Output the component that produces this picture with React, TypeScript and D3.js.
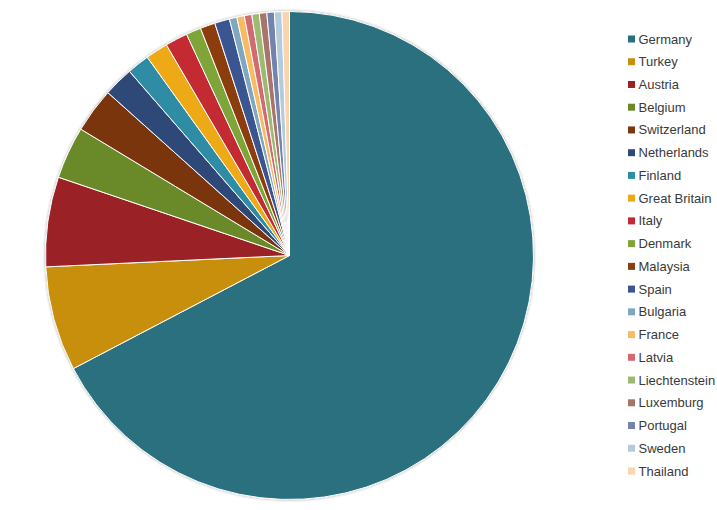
import React from "react";
import * as d3 from "d3";

const categories = [
  "Germany", "Turkey", "Austria", "Belgium", "Switzerland", "Netherlands",
  "Finland", "Great Britain", "Italy", "Denmark", "Malaysia", "Spain",
  "Bulgaria", "France", "Latvia", "Liechtenstein", "Luxemburg", "Portugal",
  "Sweden", "Thailand",
];
const values = [136, 14, 12, 7, 6, 4, 3, 3, 3, 2, 2, 2, 1, 1, 1, 1, 1, 1, 1, 1];
const colors = [
  "#2A6F7F", "#C88F0A", "#9A2226", "#6A8A2A", "#7A3511", "#2F4A78",
  "#2E8DA4", "#EDAA17", "#C42A33", "#7FA539", "#8B3E0F", "#3B5590",
  "#7FA8BE", "#F7BC63", "#D36A72", "#9DBB70", "#A7756B", "#7283AD",
  "#B3CBDA", "#FAD4AE",
];

export default function App() {
  const W = 717, H = 510;
  const cx = 289.5, cy = 255.5, r = 244;
  const data = categories.map((c, i) => ({ name: c, value: values[i], color: colors[i] }));
  const pie = d3.pie<any>().value((d) => d.value).sort(null);
  const arcs = pie(data);
  const arc = d3.arc<any>().innerRadius(0).outerRadius(r);
  const legendY = d3.scalePoint<string>().domain(categories).range([39, 471]);

  return (
    <svg width={W} height={H} style={{ position: "absolute", left: 0, top: 0, background: "#fff" }}>
      <defs>
        <filter id="sh" x="-10%" y="-10%" width="120%" height="120%">
          <feGaussianBlur in="SourceAlpha" stdDeviation="1.5" />
          <feOffset dx="0" dy="0" result="b" />
          <feComponentTransfer><feFuncA type="linear" slope="0.35" /></feComponentTransfer>
          <feMerge><feMergeNode /><feMergeNode in="SourceGraphic" /></feMerge>
        </filter>
      </defs>
      <rect width={W} height={H} fill="#fff" />
      <g transform={`translate(${cx},${cy})`} filter="url(#sh)">
        {arcs.map((a, i) => (
          <path key={i} d={arc(a) as string} fill={a.data.color} stroke="#fff" strokeWidth={1} strokeLinejoin="round" />
        ))}
      </g>
      <g fontFamily="'Liberation Sans', Arial, sans-serif" fontSize={13} fill="#3a3a3a">
        {categories.map((c, i) => (
          <g key={c} transform={`translate(0,${legendY(c)})`}>
            <rect x={628} y={-3.5} width={7} height={7} fill={colors[i]} />
            <text x={638.5} y={0} dominantBaseline="central">{c}</text>
          </g>
        ))}
      </g>
    </svg>
  );
}
